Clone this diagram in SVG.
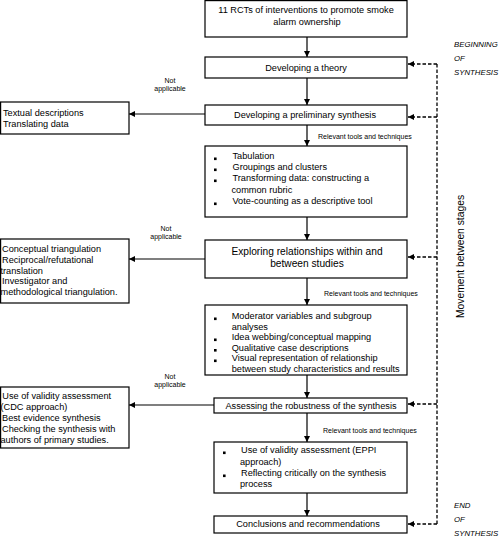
<svg xmlns="http://www.w3.org/2000/svg" width="500" height="537" viewBox="0 0 500 537">
<style>
.box{fill:#fff;stroke:#000;stroke-width:1.2}
text{font-family:"Liberation Sans",Arial,sans-serif;font-size:9.2px;fill:#000}
.c{text-anchor:middle}
.big{font-size:10.2px}
.sm{font-size:7px}
.it{font-style:italic;font-size:7.8px}
.mv{font-size:10.3px}
.ln{stroke:#000;stroke-width:1.2;fill:none}
.ds{stroke:#000;stroke-width:1.3;fill:none;stroke-dasharray:3.5 2}
.bl{fill:#000}
</style>
<defs>
<marker id="ah" viewBox="0 0 10 10" refX="10" refY="5" markerWidth="6" markerHeight="6" orient="auto" markerUnits="userSpaceOnUse">
<path d="M0,0 L10,5 L0,10 z" fill="#000"/>
</marker>
</defs>

<g id="connectors">
<line class="ln" x1="307" y1="37" x2="307" y2="57" marker-end="url(#ah)"/>
<line class="ln" x1="307" y1="78" x2="307" y2="105" marker-end="url(#ah)"/>
<line class="ln" x1="307" y1="125" x2="307" y2="146" marker-end="url(#ah)"/>
<line class="ln" x1="307" y1="217" x2="307" y2="240" marker-end="url(#ah)"/>
<line class="ln" x1="307" y1="278" x2="307" y2="305" marker-end="url(#ah)"/>
<line class="ln" x1="307" y1="375" x2="307" y2="398" marker-end="url(#ah)"/>
<line class="ln" x1="307" y1="413" x2="307" y2="442" marker-end="url(#ah)"/>
<line class="ln" x1="307" y1="493" x2="307" y2="516" marker-end="url(#ah)"/>
<line class="ln" x1="205" y1="114" x2="129" y2="114" marker-end="url(#ah)"/>
<line class="ln" x1="205" y1="259" x2="129" y2="259" marker-end="url(#ah)"/>
<line class="ln" x1="214" y1="405" x2="129" y2="405" marker-end="url(#ah)"/>
<line class="ds" x1="437" y1="64" x2="437" y2="524"/>
<line class="ds" x1="437" y1="64" x2="408" y2="64" marker-end="url(#ah)"/>
<line class="ds" x1="437" y1="117" x2="408" y2="117" marker-end="url(#ah)"/>
<line class="ds" x1="437" y1="257" x2="408" y2="257" marker-end="url(#ah)"/>
<line class="ds" x1="437" y1="404" x2="408" y2="404" marker-end="url(#ah)"/>
<line class="ds" x1="437" y1="524" x2="408" y2="524" marker-end="url(#ah)"/>
<text class="sm c" x="170" y="82.5">Not</text>
<text class="sm c" x="170" y="90.5">applicable</text>
<text class="sm c" x="166" y="230.5">Not</text>
<text class="sm c" x="166" y="238.5">applicable</text>
<text class="sm c" x="170" y="378.5">Not</text>
<text class="sm c" x="170" y="386.5">applicable</text>
<text class="sm" x="318" y="138.5">Relevant tools and techniques</text>
<text class="sm" x="324" y="295.5">Relevant tools and techniques</text>
<text class="sm" x="323" y="432.5">Relevant tools and techniques</text>
</g>

<g id="n1">
<rect class="box" x="205" y="0.6" width="202" height="36.4"/>
<text class="c" x="306" y="13.3">11 RCTs of interventions to promote smoke</text>
<text class="c" x="307" y="25">alarm ownership</text>
</g>

<g id="n2">
<rect class="box" x="205" y="57" width="202" height="21"/>
<text class="c" x="306" y="71">Developing a theory</text>
</g>

<g id="n3">
<rect class="box" x="205" y="105" width="202" height="20"/>
<text class="c" x="305" y="118.3">Developing a preliminary synthesis</text>
</g>

<g id="n4">
<rect class="box" x="205" y="146" width="202" height="71"/>
<rect class="bl" x="214" y="157.5" width="2.6" height="2.6"/>
<rect class="bl" x="214" y="168.5" width="2.6" height="2.6"/>
<rect class="bl" x="214" y="179.5" width="2.6" height="2.6"/>
<rect class="bl" x="214" y="202.5" width="2.6" height="2.6"/>
<text x="232.5" y="159.3">Tabulation</text>
<text x="232.5" y="170.3">Groupings and clusters</text>
<text x="232.5" y="181.3">Transforming data: constructing a</text>
<text x="231.5" y="192.8">common rubric</text>
<text x="232.5" y="204.3">Vote-counting as a descriptive tool</text>
</g>

<g id="n5">
<rect class="box" x="205" y="240" width="202" height="38"/>
<text class="big c" x="307" y="255.3">Exploring relationships within and</text>
<text class="big c" x="307" y="267">between studies</text>
</g>

<g id="n6">
<rect class="box" x="205" y="305" width="202" height="70"/>
<rect class="bl" x="214" y="317.5" width="2.6" height="2.6"/>
<rect class="bl" x="214" y="338.5" width="2.6" height="2.6"/>
<rect class="bl" x="214" y="349" width="2.6" height="2.6"/>
<rect class="bl" x="214" y="359.5" width="2.6" height="2.6"/>
<text x="231.7" y="319.3">Moderator variables and subgroup</text>
<text x="231.7" y="329.8">analyses</text>
<text x="231.7" y="340.3">Idea webbing/conceptual mapping</text>
<text x="231.7" y="350.8">Qualitative case descriptions</text>
<text x="231.7" y="361.3">Visual representation of relationship</text>
<text x="231.7" y="371.8">between study characteristics and results</text>
</g>

<g id="n7">
<rect class="box" x="214" y="398" width="193" height="15"/>
<text class="c" x="311" y="408.5">Assessing the robustness of the synthesis</text>
</g>

<g id="n8">
<rect class="box" x="214" y="442" width="193" height="51"/>
<rect class="bl" x="223" y="451.5" width="2.6" height="2.6"/>
<rect class="bl" x="223" y="474.5" width="2.6" height="2.6"/>
<text x="241" y="453.3">Use of validity assessment (EPPI</text>
<text x="240" y="464.8">approach)</text>
<text x="241" y="476.3">Reflecting critically on the synthesis</text>
<text x="240" y="487.3">process</text>
</g>

<g id="n9">
<rect class="box" x="214" y="516" width="193" height="17"/>
<text class="c" x="308" y="527.3">Conclusions and recommendations</text>
</g>

<g id="l1">
<rect class="box" x="0.6" y="102" width="128.4" height="32"/>
<text x="3" y="115.5">Textual descriptions</text>
<text x="3" y="126.5">Translating data</text>
</g>

<g id="l2">
<rect class="box" x="0.6" y="239" width="128.4" height="64"/>
<text x="2" y="252.3">Conceptual triangulation</text>
<text x="2" y="263">Reciprocal/refutational</text>
<text x="0.5" y="273.7">translation</text>
<text x="2" y="284.4">Investigator and</text>
<text x="0.5" y="295.1">methodological triangulation.</text>
</g>

<g id="l3">
<rect class="box" x="0.6" y="387" width="128.4" height="61"/>
<text x="2.3" y="399.3">Use of validity assessment</text>
<text x="0.5" y="410.3">(CDC approach)</text>
<text x="2" y="421.3">Best evidence synthesis</text>
<text x="2" y="432.3">Checking the synthesis with</text>
<text x="0.5" y="442.8">authors of primary studies.</text>
</g>

<g id="labels">
<text class="it" x="454" y="46.5">BEGINNING</text>
<text class="it" x="454" y="60.5">OF</text>
<text class="it" x="454" y="74.5">SYNTHESIS</text>
<text class="it" x="454" y="508">END</text>
<text class="it" x="454" y="522">OF</text>
<text class="it" x="454" y="536">SYNTHESIS</text>
<text class="mv c" transform="translate(463.6,256.5) rotate(-90)">Movement between stages</text>
</g>
</svg>
